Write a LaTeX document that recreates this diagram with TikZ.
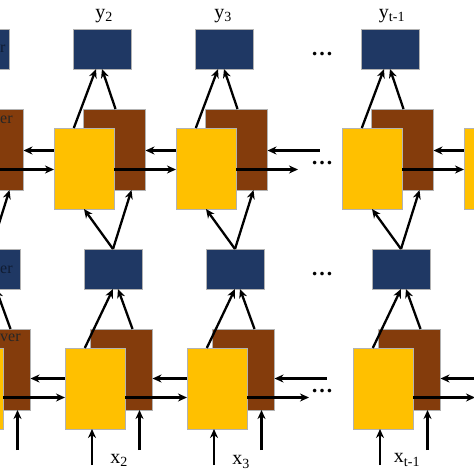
\documentclass[tikz,border=0pt]{standalone}
\usepackage{fontspec}
\setmainfont{Liberation Serif}
\usetikzlibrary{arrows.meta,calc}

\definecolor{outblue}{RGB}{31,56,100}
\definecolor{bwdbrown}{RGB}{132,60,12}
\definecolor{fwdyellow}{RGB}{255,192,0}

\tikzset{
  box/.style={draw=gray!60, line width=0.7pt, inner sep=0pt, outer sep=0pt},
  fwdbox/.style={box, fill=fwdyellow, minimum width=60pt, minimum height=81pt},
  bwdbox/.style={box, fill=bwdbrown, minimum width=62pt, minimum height=81pt},
  outbox/.style={box, fill=outblue, minimum width=58pt, minimum height=40pt},
  link/.style={line width=2.3pt, -{Stealth[length=9pt,width=8pt]}},
  lbl/.style={font=\fontsize{20}{20}\selectfont},
  dots/.style={font=\fontsize{22}{22}\selectfont\bfseries},
  partlbl/.style={font=\fontsize{16}{16}\selectfont, anchor=west, inner sep=0pt}
}

\begin{document}
\begin{tikzpicture}[x=1pt,y=-1pt]
\useasboundingbox (0,0) rectangle (474,474);
\clip (0,0) rectangle (474,474);

% two stacked layers, columns 1, 2, 3, t-1 (s) and t
\foreach \lay/\dx/\dy/\bc/\bs/\ye/\be/\ay in {t/0/0/60.5/1/-6/0/1, b/11/220/56.5/11/0/5/9}{
  \foreach \col/\lx in {1/-68, 2/54, 3/176, s/342, t/464}{
    \node[bwdbox] (\lay b\col) at (\lx+\dx+\bc, 149.5+\dy) {};
    \node[fwdbox] (\lay f\col) at (\lx+\dx+30, 168.5+\dy) {};
    \node[outbox] (\lay o\col) at (\lx+\dx+48, 49+\dy) {};
  }
  % up to the output boxes
  \foreach \col in {1,2,3,s}{
    \draw[link] ($(\lay f\col.north west)!0.33!(\lay f\col.north east)$) -- ($(\lay o\col.south)+(\ye,0)$);
    \draw[link] ($(\lay b\col.north)+(\bs,0)$) -- ($(\lay o\col.south)+(\be,0)$);
  }
  % forward and backward links
  \foreach \p/\q in {1/2, 2/3, s/t}{
    \draw[link] ($(\lay f\p.east)+(0,\ay)$) -- ($(\lay f\q.west)+(0,\ay)$);
    \draw[link] ($(\lay f\q.west |- \lay b\p.east)+(0,\ay)$) -- ($(\lay b\p.east)+(0,\ay)$);
  }
  \coordinate (\lay fo) at ($(\lay f3.east)+(62,\ay)$);
  \coordinate (\lay bo) at ($(\lay b3.east)+(52,\ay)$);
  \draw[link] ($(\lay f3.east)+(0,\ay)$) -- (\lay fo);
  \draw[link] (\lay bo) -- ($(\lay b3.east)+(0,\ay)$);
  \node[dots] (\lay dotso) at (322, 54+\dy) {\ldots};
  \node[dots] (\lay dotsh) at (322, 162+\dy+\ay) {\ldots};
}

% hidden outputs feed the upper layer
\foreach \col in {1,2,3,s}{
  \draw[link] (bo\col.north) -- (tf\col.south);
  \draw[link] (bo\col.north) -- ($(tb\col.south)+(17,0)$);
}

% inputs
\foreach \col in {1,2,3,s}{
  \coordinate (xf\col) at ($(bf\col.south)+(-3,36)$);
  \coordinate (xb\col) at ($(bb\col.south)+(18,40)$);
  \draw[link] (xf\col) -- ($(bf\col.south)+(-3,0)$);
  \draw[link] (xb\col) -- ($(bb\col.south)+(18,0)$);
}
\node[lbl] (x2) at ($(bf2.south)+(24,31)$) {x\textsubscript{2}};
\node[lbl] (x3) at ($(bf3.south)+(24,33)$) {x\textsubscript{3}};
\node[lbl] (xs) at ($(bfs.south)+(24,31)$) {x\textsubscript{t-1}};

% output labels
\node[lbl] (y2) at ($(to2.north)+(2,-13)$) {y\textsubscript{2}};
\node[lbl] (y3) at ($(to3.north)+(-1,-13)$) {y\textsubscript{3}};
\node[lbl] (ys) at ($(tos.north)+(2,-13)$) {y\textsubscript{t-1}};

% layer names, cut by the left edge
\node[partlbl, text=outblue!50!black] (namet) at (0,49) {r};
\node[partlbl, text=black!85] (nametb) at (0,120) {er};
\node[partlbl, text=outblue!50!black] (nameh) at (0,270) {er};
\node[partlbl, text=black!85] (namebb) at (0,338) {ver};
\end{tikzpicture}
\end{document}
